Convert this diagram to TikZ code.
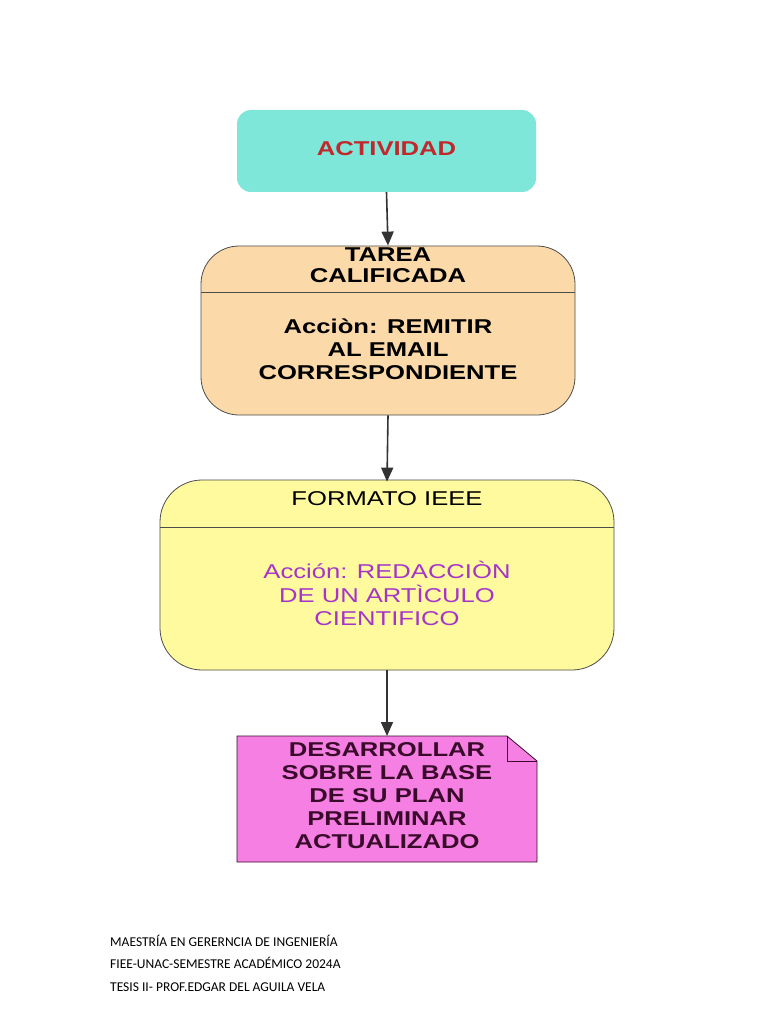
\documentclass[tikz,border=0pt]{standalone}
\usepackage{fontspec}
\usepackage{graphicx}
\setmainfont{Liberation Sans}
\newfontfamily\foot{Carlito}
\newcommand{\W}[1]{\scalebox{1.28}[1]{\begin{tabular}{@{}c@{}}#1\end{tabular}}}
\usetikzlibrary{arrows.meta}
\definecolor{teal1}{HTML}{7FE6DA}
\definecolor{peach}{HTML}{FBD9A8}
\definecolor{lyel}{HTML}{FFFA9E}
\definecolor{pinkm}{HTML}{F57FE2}
\definecolor{redt}{HTML}{C0282C}
\definecolor{purp}{HTML}{A535C8}
\definecolor{dpur}{HTML}{3A0A2A}
\begin{document}
\begin{tikzpicture}[x=1pt,y=-1pt,
  box/.style={draw=black!70,line width=0.8pt,rounded corners=38pt,inner sep=0pt},
  arr/.style={-{Triangle[length=14pt,width=12pt]},line width=1.6pt,draw=black!80},
  txt/.style={align=center,inner sep=0pt}]
\useasboundingbox (0,0) rectangle (768,1024);
\fill[white] (0,0) rectangle (768,1024);
\node[fill=teal1,rounded corners=14pt,minimum width=299pt,minimum height=82pt,inner sep=0pt] (act) at (386.5,151) {};
\node[txt,text=redt,font=\bfseries\fontsize{20}{22}\selectfont] (actt) at (act) {\W{ACTIVIDAD}};
\node[box,fill=peach,minimum width=374pt,minimum height=169pt] (tar) at (388,330.5) {};
\draw[black!70,line width=0.7pt] (201,292) -- (575,292);
\node[txt,font=\bfseries\fontsize{20}{21}\selectfont] (tart) at (388,268) {\W{TAREA\\CALIFICADA}};
\node[txt,font=\bfseries\fontsize{20}{23}\selectfont] (tara) at (388,352) {\W{Acciòn: REMITIR\\AL EMAIL\\CORRESPONDIENTE}};
\node[box,fill=lyel,minimum width=454pt,minimum height=190pt,rounded corners=42pt] (for) at (387,575) {};
\draw[black!70,line width=0.7pt] (160,527) -- (614,527);
\node[txt,font=\fontsize{20}{22}\selectfont] (fort) at (387,501) {\W{FORMATO IEEE}};
\node[txt,text=purp,font=\fontsize{20}{23}\selectfont] (fora) at (387,597) {\W{Acción: REDACCIÒN\\DE UN ARTÌCULO\\CIENTIFICO}};
\coordinate (nt) at (387,736);
\draw[draw=dpur,line width=0.8pt,fill=pinkm] (237,736) -- (507,736) -- (537,761) -- (537,862) -- (237,862) -- cycle;
\draw[draw=dpur,line width=0.6pt] (507,736) -- (507,761) -- (537,761);
\node[txt,text=dpur,font=\bfseries\fontsize{20}{23}\selectfont] (note) at (387,798) {\W{DESARROLLAR\\SOBRE LA BASE\\DE SU PLAN\\PRELIMINAR\\ACTUALIZADO}};
\draw[arr] (act.south) -- (tar.north);
\draw[arr] (tar.south) -- ([yshift=-2pt]for.north);
\draw[arr] (for.south) -- (nt);
\node[anchor=west,align=left,inner sep=0pt,font=\foot\fontsize{13.5}{22.5}\selectfont] (ft) at (110,963) {MAESTRÍA EN GERERNCIA DE INGENIERÍA\\FIEE-UNAC-SEMESTRE ACADÉMICO 2024A\\TESIS II- PROF.EDGAR DEL AGUILA VELA};
\end{tikzpicture}
\end{document}
